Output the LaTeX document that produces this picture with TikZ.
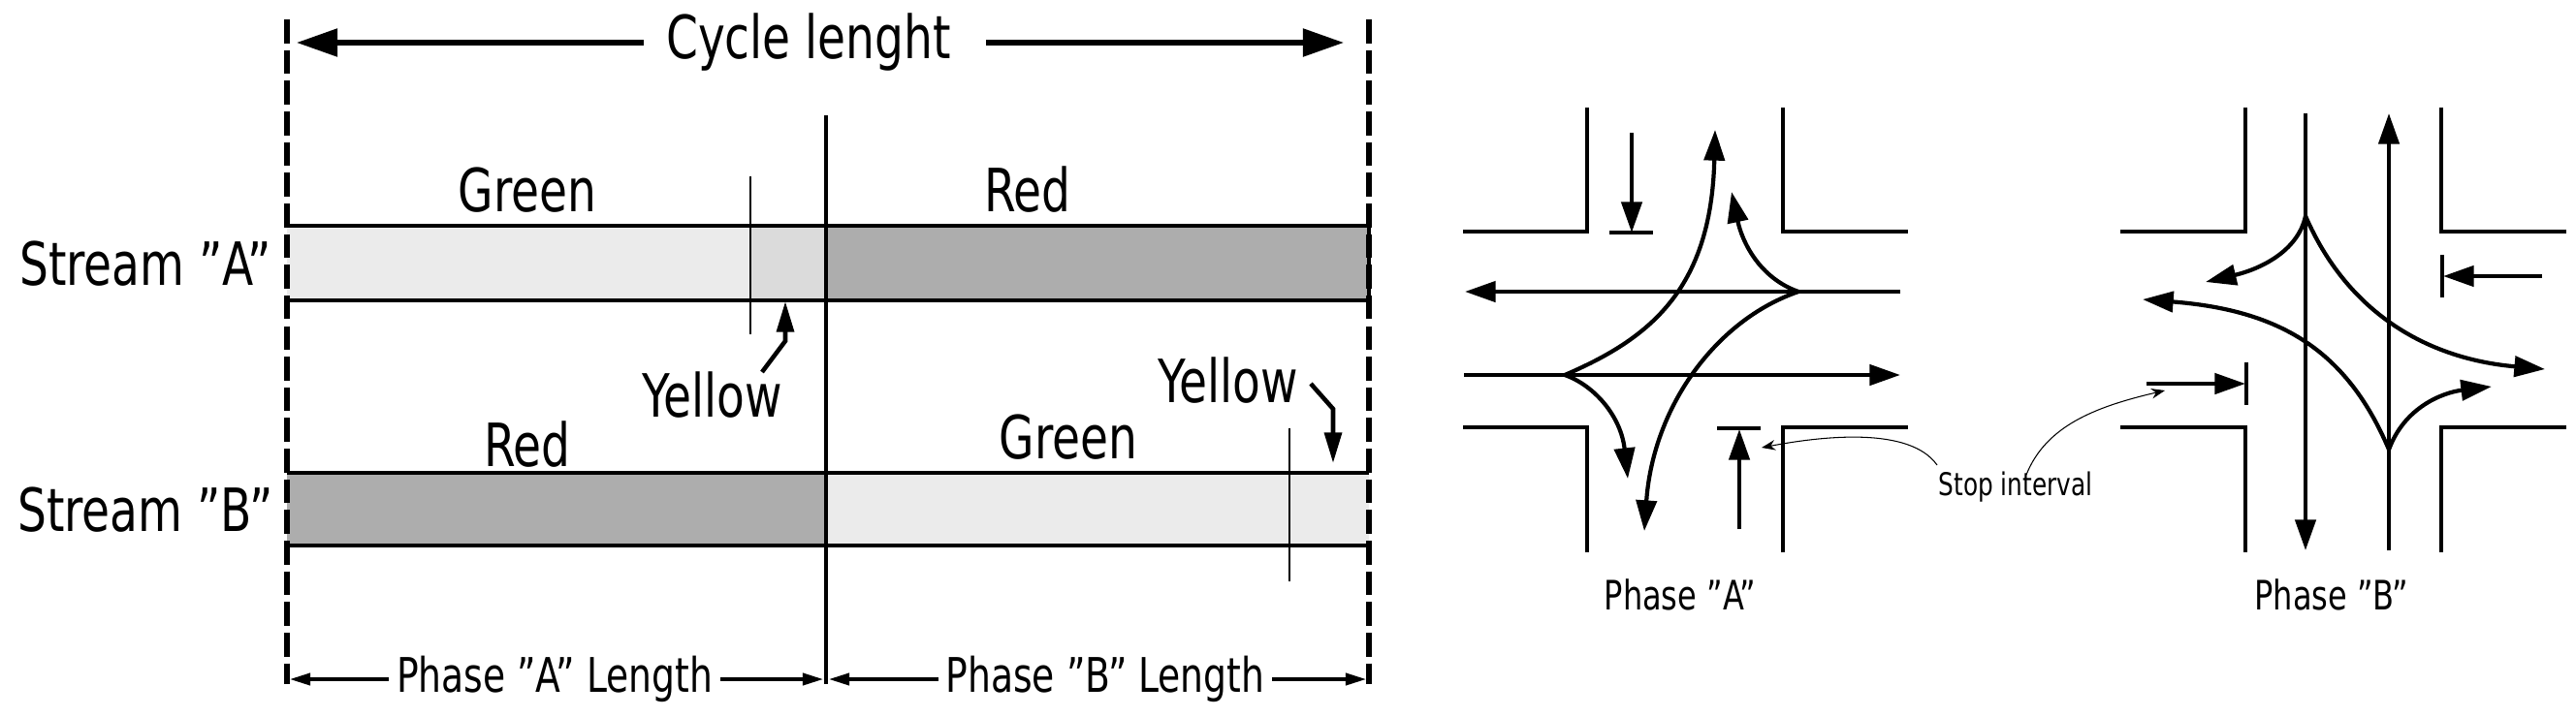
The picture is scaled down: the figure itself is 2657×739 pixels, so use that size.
\documentclass[tikz,border=0pt]{standalone}
\usepackage{fontspec}
\setmainfont{DejaVu Sans Condensed}[FakeStretch=0.85]
\usetikzlibrary{arrows.meta}
\newcommand{\qq}{\symbol{34}}
\begin{document}
\begin{tikzpicture}[x=0.01cm,y=-0.01cm,
  big/.style={line width=1.5pt,-{Triangle[length=12pt,width=8pt]}},
  thin/.style={line width=0.9pt,{Triangle[length=6pt,width=3.5pt]}-},
  road/.style={line width=1.2pt},
  mv/.style={line width=1.2pt,-{Triangle[length=9pt,width=6pt]}},
  ya/.style={line width=1.3pt,-{Triangle[length=9pt,width=5pt]}},
  lbl/.style={font=\fontsize{17.5}{20}\selectfont,inner sep=1pt},
  small/.style={font=\fontsize{11.9}{14}\selectfont,inner sep=1pt},
  lead/.style={line width=0.3pt,-{Stealth[length=4pt,width=3pt]}}]
\useasboundingbox (0,0) rectangle (2657,739);
% bars
\fill[black!8] (296,233) rectangle (774,310);
\fill[black!14] (774,233) rectangle (852,310);
\fill[black!32] (852,233) rectangle (1412,310);
\draw[line width=0.9pt] (296,233) -- (1412,233) (296,310) -- (1412,310) (1412,233) -- (1412,310);
\fill[black!32] (296,488) rectangle (852,563);
\fill[black!8] (852,488) rectangle (1412,563);
\draw[line width=1.2pt] (296,488) -- (852,488) (296,563) -- (852,563);
\draw[line width=0.9pt] (852,488) -- (1412,488) (852,563) -- (1412,563);
\draw[line width=0.8pt] (774,182) -- (774,345);
\draw[line width=0.8pt] (1330,442) -- (1330,600);
% verticals
\draw[line width=1.5pt,dash pattern=on 7pt off 2pt] (296,20) -- (296,706);
\draw[line width=1.5pt,dash pattern=on 7pt off 2pt] (1412,20) -- (1412,706);
\draw[line width=1.3pt] (852,119) -- (852,706);
% labels
\node[lbl] (ga) at (544,196) {Green};
\node[lbl] (ra) at (1060,196) {Red};
\node[lbl] (rb) at (544,459) {Red};
\node[lbl] (gb) at (1102,451) {Green};
\node[lbl] (sa) at (150,272) {Stream \qq A\qq};
\node[lbl] (sb) at (150,526) {Stream \qq B\qq};
\node[lbl] (y1) at (735,408) {Yellow};
\node[lbl] (y2) at (1267,393) {Yellow};
\coordinate (y1k) at (810,352); \coordinate (y1t) at (810,311);
\coordinate (y2k) at (1375,422); \coordinate (y2t) at (1375,478);
\draw[ya] (786,384) -- (y1k) -- (y1t);
\draw[ya] (1352,396) -- (y2k) -- (y2t);
% cycle
\node[lbl,inner sep=4pt] (cl) at (834,44) {Cycle lenght};
\coordinate (cl1) at (306,44); \coordinate (cl2) at (1386,44);
\draw[big] (664,44) -- (cl1);
\draw[big] (1017,44) -- (cl2);
% phase lengths
\node[font=\fontsize{14}{16}\selectfont,inner sep=2pt] (pa) at (572,701) {Phase \qq A\qq\ Length};
\node[font=\fontsize{14}{16}\selectfont,inner sep=2pt] (pb) at (1140,701) {Phase \qq B\qq\ Length};
\coordinate (p1) at (299,701); \coordinate (p2) at (849,701);
\coordinate (p3) at (855,701); \coordinate (p4) at (1409,701);
\draw[thin] (p1) -- (pa.west); \draw[thin] (p2) -- (pa.east);
\draw[thin] (p3) -- (pb.west); \draw[thin] (p4) -- (pb.east);
% ===== Phase A intersection =====
\draw[road] (1637,111) -- (1637,239) -- (1509,239);
\draw[road] (1839,111) -- (1839,239) -- (1968,239);
\draw[road] (1637,570) -- (1637,441) -- (1509,441);
\draw[road] (1839,570) -- (1839,441) -- (1968,441);
\coordinate (wb1) at (1960,301); \coordinate (wb2) at (1511,301);
\coordinate (eb1) at (1510,387); \coordinate (eb2) at (1960,387);
\coordinate (rc) at (1855,301); \coordinate (lc) at (1614,387);
\draw[mv] (wb1) -- (wb2);
\draw[mv] (eb1) -- (eb2);
\draw[road] (1660,240) -- (1705,240);
\draw[mv] (1683,137) -- (1683,240);
\draw[road] (1771,442) -- (1816,442);
\draw[mv] (1794,546) -- (1794,443);
\draw[mv] (rc) .. controls (1815,287) and (1797,250) .. (1786,198);
\draw[mv] (rc) .. controls (1770,330) and (1705,420) .. (1696,548);
\draw[mv] (lc) .. controls (1700,350) and (1765,300) .. (1769,134);
\draw[mv] (lc) .. controls (1645,398) and (1672,430) .. (1679,494);
\node[small] (pha) at (1733,614) {Phase \qq A\qq};
\node[font=\fontsize{9.2}{11}\selectfont,inner sep=1pt] (si) at (2079,503) {Stop interval};
\coordinate (sit1) at (1817,462); \coordinate (sit2) at (2233,403);
\draw[lead] (1998,480) .. controls (1970,440) and (1880,450) .. (sit1);
\draw[lead] (2090,490) .. controls (2110,440) and (2160,420) .. (sit2);
% ===== Phase B intersection =====
\draw[road] (2316,111) -- (2316,239) -- (2187,239);
\draw[road] (2518,111) -- (2518,239) -- (2647,239);
\draw[road] (2316,570) -- (2316,441) -- (2187,441);
\draw[road] (2518,570) -- (2518,441) -- (2647,441);
\coordinate (sb1) at (2378,117); \coordinate (sb2) at (2378,568);
\coordinate (nb1) at (2464,568); \coordinate (nb2) at (2464,117);
\coordinate (tc) at (2378,223); \coordinate (bc) at (2464,464);
\draw[mv] (sb1) -- (sb2);
\draw[mv] (nb1) -- (nb2);
\draw[mv] (tc) .. controls (2370,260) and (2330,278) .. (2275,291);
\draw[mv] (tc) .. controls (2420,320) and (2500,370) .. (2625,381);
\draw[mv] (bc) .. controls (2480,420) and (2520,405) .. (2570,399);
\draw[mv] (bc) .. controls (2420,360) and (2350,320) .. (2210,309);
\draw[road] (2519,263) -- (2519,307);
\draw[mv] (2622,285) -- (2520,285);
\draw[road] (2317,374) -- (2317,418);
\draw[mv] (2214,396) -- (2316,396);
\node[small] (phb) at (2405,614) {Phase \qq B\qq};
\end{tikzpicture}
\end{document}
